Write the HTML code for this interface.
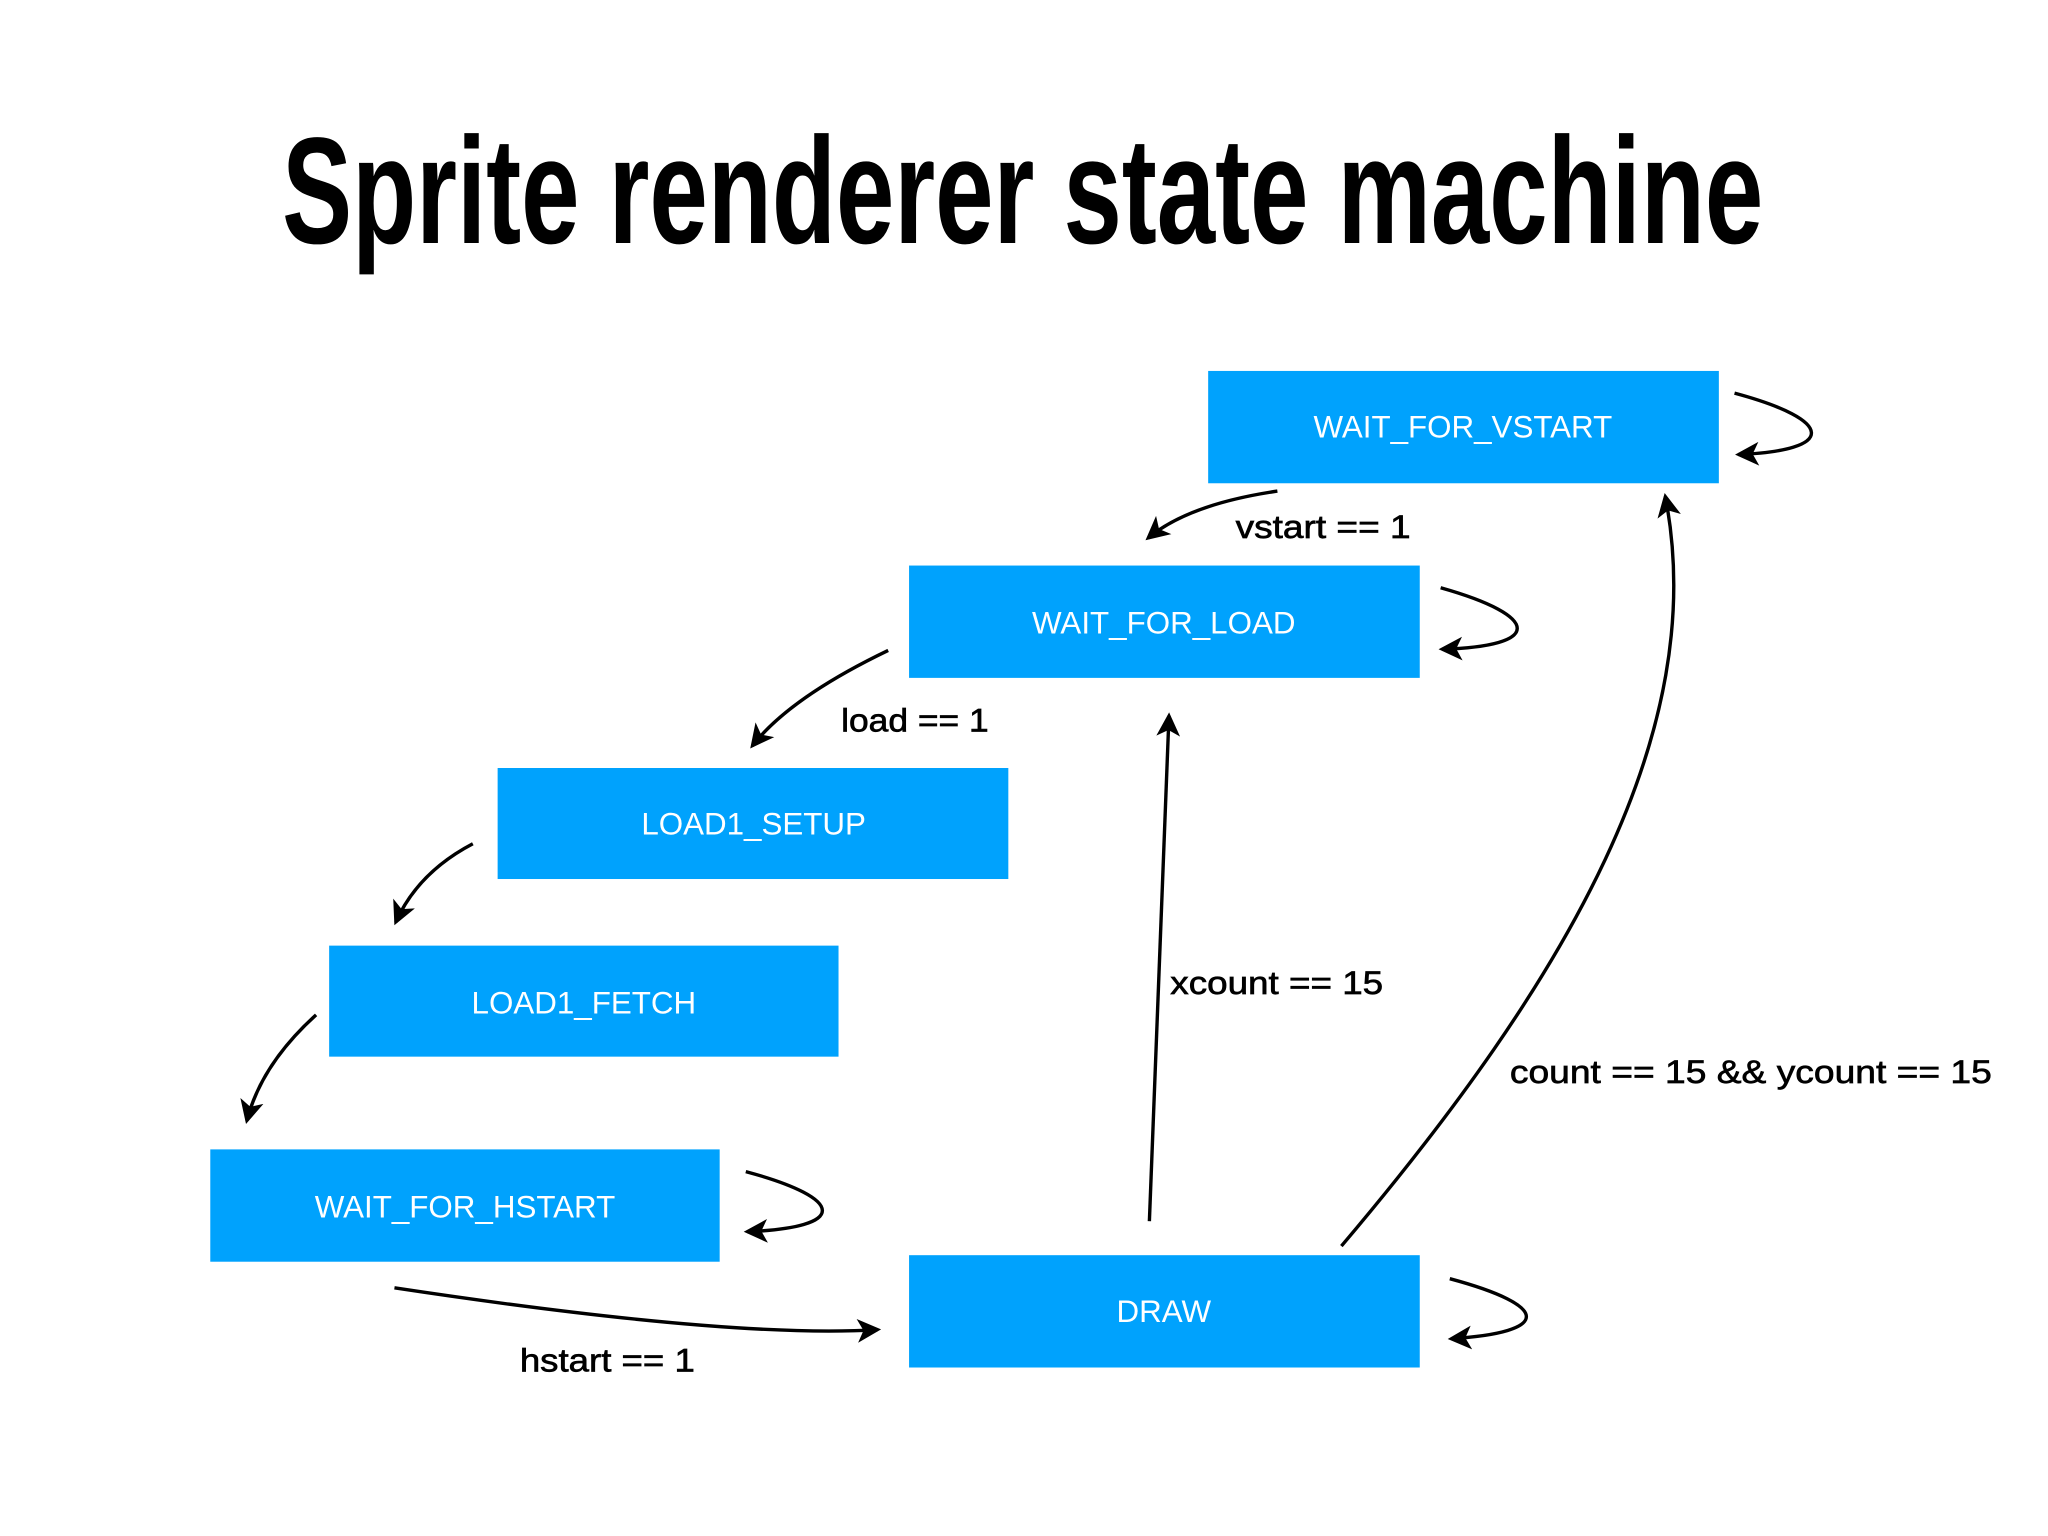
<!DOCTYPE html>
<html><head><meta charset="utf-8"><style>
html,body{margin:0;padding:0;background:#fff;width:2048px;height:1536px;overflow:hidden}
svg{display:block}
.box{fill:#00a2fd}
.bt{fill:#fff;font-family:"Liberation Sans",sans-serif;font-size:24px;text-anchor:middle;font-weight:300}
.lb{fill:#000;stroke:#000;stroke-width:0.5;font-family:"Liberation Sans",sans-serif;font-size:25px}
.ar{fill:none;stroke:#000;stroke-width:2.6;marker-end:url(#ah)}
</style></head><body>
<svg width="2048" height="1536" viewBox="0 0 1568 1176" xmlns="http://www.w3.org/2000/svg">
<defs><marker id="ah" markerWidth="8" markerHeight="8" refX="6" refY="4" orient="auto" markerUnits="strokeWidth"><path d="M0,0.5 L7,4 L0,7.5 L1.8,4 Z" fill="#000"/></marker></defs>
<text x="783" y="186" text-anchor="middle" textLength="1134" lengthAdjust="spacingAndGlyphs" font-family="'Liberation Sans Narrow','Liberation Sans',sans-serif" font-weight="bold" font-size="116">Sprite renderer state machine</text>

<rect class="box" x="925" y="284" width="391" height="86"/><text class="bt" x="1120" y="335">WAIT_FOR_VSTART</text>
<rect class="box" x="696" y="433" width="391" height="86"/><text class="bt" x="891" y="485">WAIT_FOR_LOAD</text>
<rect class="box" x="381" y="588" width="391" height="85"/><text class="bt" x="577" y="639">LOAD1_SETUP</text>
<rect class="box" x="252" y="724" width="390" height="85"/><text class="bt" x="447" y="776">LOAD1_FETCH</text>
<rect class="box" x="161" y="880" width="390" height="86"/><text class="bt" x="356" y="932">WAIT_FOR_HSTART</text>
<rect class="box" x="696" y="961" width="391" height="86"/><text class="bt" x="891" y="1012">DRAW</text>

<path class="ar" d="M978,376 Q910,386 879,412"/>
<path class="ar" d="M680,498 Q605,534 576,571"/>
<path class="ar" d="M362,646 Q320,668 303,706"/>
<path class="ar" d="M242,777 Q200,815 189,858"/>
<path class="ar" d="M302,986 Q560,1025 672,1018"/>
<path class="ar" d="M880,935 L895,548"/>
<path class="ar" d="M1027,954 C1200,750 1310,560 1275,380"/>
<path class="ar" d="M1328,301 C1406,322 1406,345 1331,348"/>
<path class="ar" d="M1103,450 C1181,472 1181,495 1104,497"/>
<path class="ar" d="M571,897 C649,918 649,940 572,943"/>
<path class="ar" d="M1110,979 C1188,1000 1188,1020 1111,1025"/>

<text class="lb" x="946" y="412" textLength="134" lengthAdjust="spacingAndGlyphs">vstart == 1</text>
<text class="lb" x="644" y="560" textLength="113" lengthAdjust="spacingAndGlyphs">load == 1</text>
<text class="lb" x="896" y="761" textLength="163" lengthAdjust="spacingAndGlyphs">xcount == 15</text>
<text class="lb" x="1156" y="829" textLength="369" lengthAdjust="spacingAndGlyphs">count == 15 &amp;&amp; ycount == 15</text>
<text class="lb" x="398" y="1050" textLength="134" lengthAdjust="spacingAndGlyphs">hstart == 1</text>
</svg>
</body></html>
